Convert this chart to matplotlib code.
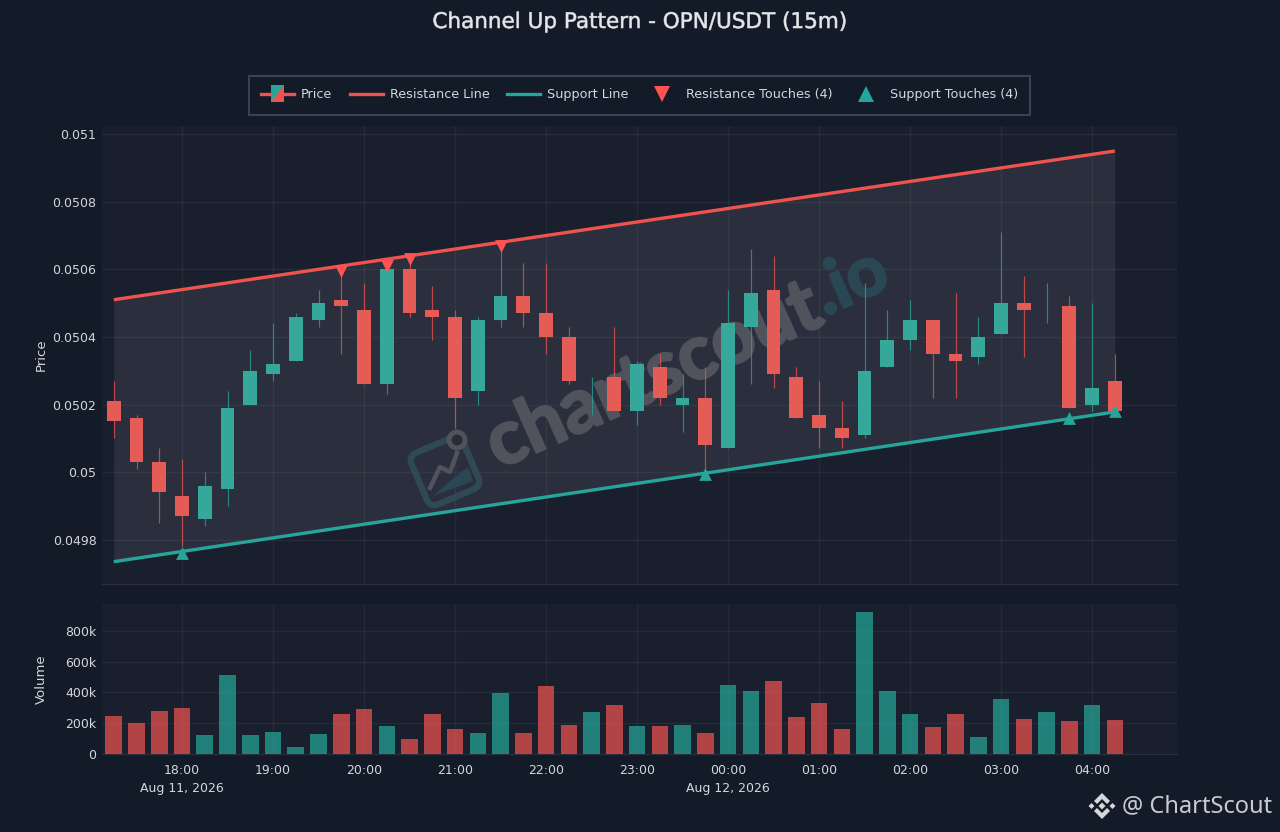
import matplotlib
matplotlib.use('Agg')
import matplotlib.pyplot as plt
import matplotlib.patheffects as pe
import pandas as pd
from matplotlib.lines import Line2D
from matplotlib.legend_handler import HandlerBase
from matplotlib.patches import FancyBboxPatch, Rectangle, Polygon, Circle
from matplotlib.transforms import Affine2D

# Candles, 15 minutes apart
times = pd.date_range('2026-08-11 17:15', '2026-08-12 04:15', freq='15min')
opens = [.05021, .05016, .05003, .04993, .04986, .04995, .05020, .05029, .05033, .05045,
         .05051, .05048, .05026, .05060, .05048, .05046, .05024, .05045, .05052, .05047,
         .05040, .05023, .05028, .05018, .05031, .05020, .05022, .05007, .05043, .05054,
         .05028, .05017, .05013, .05011, .05031, .05039, .05045, .05035, .05034, .05041,
         .05050, .05050, .05049, .05020, .05027]
closes = [.05015, .05003, .04994, .04987, .04996, .05019, .05030, .05032, .05046, .05050,
          .05049, .05026, .05060, .05047, .05046, .05022, .05045, .05052, .05047, .05040,
          .05027, .05023, .05018, .05032, .05022, .05022, .05008, .05044, .05053, .05029,
          .05016, .05013, .05010, .05030, .05039, .05045, .05035, .05033, .05040, .05050,
          .05048, .05050, .05019, .05025, .05018]
highs = [.05027, .05017, .05007, .05004, .05000, .05024, .05036, .05044, .05047, .05054,
         .05059, .05056, .05063, .05064, .05055, .05048, .05046, .05068, .05062, .05062,
         .05043, .05028, .05043, .05033, .05035, .05029, .05031, .05054, .05066, .05064,
         .05031, .05027, .05021, .05056, .05048, .05051, .05045, .05053, .05046, .05071,
         .05058, .05056, .05052, .05050, .05035]
lows = [.05010, .05001, .04985, .04978, .04984, .04990, .05020, .05027, .05033, .05043,
        .05035, .05026, .05023, .05046, .05039, .05013, .05020, .05043, .05043, .05035,
        .05026, .05017, .05018, .05014, .05020, .05012, .05000, .05007, .05026, .05025,
        .05016, .05007, .05007, .05010, .05031, .05036, .05022, .05022, .05032, .05041,
        .05034, .05044, .05019, .05018, .05018]
volumes = [247, 200, 280, 300, 123, 515, 123, 145, 48, 130,
           262, 295, 182, 98, 262, 160, 135, 395, 135, 440,
           190, 272, 317, 180, 182, 188, 135, 448, 408, 475,
           240, 332, 160, 925, 408, 258, 178, 258, 108, 355,
           225, 272, 213, 318, 220]
volumes = [v * 1000 for v in volumes]

# Channel lines and touches
line_times = [times[0], times[-1]]
resistance = [.05051, .05095]
support = [.049735, .050178]
res_times = pd.to_datetime(['2026-08-11 19:45', '2026-08-11 20:15', '2026-08-11 20:30', '2026-08-11 21:30'])
res_prices = [.050595, .05061, .05063, .05067]
sup_times = pd.to_datetime(['2026-08-11 18:00', '2026-08-11 23:45', '2026-08-12 03:45', '2026-08-12 04:15'])
sup_prices = [.04976, .049995, .05016, .05018]

price_ticks = [.0498, .05, .0502, .0504, .0506, .0508, .051]
price_labels = ['0.0498', '0.05', '0.0502', '0.0504', '0.0506', '0.0508', '0.051']
vol_ticks = [0, 200000, 400000, 600000, 800000]
vol_labels = ['0', '200k', '400k', '600k', '800k']
hour_ticks = pd.date_range('2026-08-11 18:00', '2026-08-12 04:00', freq='1h')

BG = '#131a28'
PANEL = '#1a1f2e'
RED = '#ef5350'
TEAL = '#26a69a'
BODY_RED = '#e55b56'
BODY_TEAL = '#35a89b'
TEXT = '#d4d7dc'
GREY_WM = '#50525c'
TEAL_WM = '#2a4854'

W, H = 1280, 832
fig = plt.figure(figsize=(W / 100, H / 100), dpi=100, facecolor=BG)
ax = fig.add_axes([102 / W, 1 - 584 / H, 1075 / W, 458 / H], facecolor=PANEL)
ax2 = fig.add_axes([102 / W, 1 - 754 / H, 1075 / W, 150 / H], facecolor=PANEL)

# pixel coordinates for the watermark and the logo, y pointing down
px = Affine2D().scale(1, -1).translate(0, H)

up = [c >= o for o, c in zip(opens, closes)]
colors = [TEAL if u else RED for u in up]
body_colors = [BODY_TEAL if u else BODY_RED for u in up]
bodies = [abs(c - o) for o, c in zip(opens, closes)]
bottoms = [min(o, c) for o, c in zip(opens, closes)]
candle_w = pd.Timedelta(minutes=9) / pd.Timedelta(days=1)
vol_w = pd.Timedelta(minutes=10.9) / pd.Timedelta(days=1)

ax.fill_between(line_times, support, resistance, color='white', alpha=0.075, lw=0, zorder=1)

# watermark
ax.text(499, 469, 'chartscout', transform=px, rotation=24, rotation_mode='anchor',
        family='Lato', weight='bold', fontsize=54.5, color=GREY_WM, zorder=1.5,
        path_effects=[pe.Stroke(linewidth=2, foreground=GREY_WM)])
ax.text(825, 316, '.io', transform=px, rotation=24, rotation_mode='anchor',
        family='Lato', weight='bold', fontsize=50, color=TEAL_WM, zorder=1.5,
        path_effects=[pe.Stroke(linewidth=2, foreground=TEAL_WM)])
rot = Affine2D().rotate_deg_around(445, 471, -23) + px
ax.add_patch(FancyBboxPatch((417, 443), 56, 56, boxstyle='round,pad=0,rounding_size=9', fc='none',
                            ec='#2f4a54', lw=4.6, transform=rot, zorder=1.5))
ax.add_patch(Polygon([(433, 496), (450, 481), (468, 467), (473, 481)], closed=True, fc=TEAL_WM,
                     ec='none', transform=px, zorder=1.5))
ax.add_line(Line2D([430, 440, 450, 457], [488, 467, 472, 453], color=GREY_WM, lw=3.2, transform=px, zorder=1.6))
ax.add_patch(Circle((457, 440), 8, fc='#2a2d38', ec=GREY_WM, lw=3.5, transform=px, zorder=1.6))

ax.vlines(times, lows, highs, colors=colors, lw=0.85, alpha=0.75, zorder=3)
ax.bar(times, bodies, bottom=bottoms, width=candle_w, color=body_colors, lw=0, zorder=4)

ax.plot(line_times, resistance, color=RED, lw=2.4, zorder=5, solid_capstyle='butt')
ax.plot(line_times, support, color=TEAL, lw=2.4, zorder=5, solid_capstyle='butt')
ax.scatter(res_times, res_prices, marker='v', s=85, color='#ff5252', lw=0, zorder=6)
ax.scatter(sup_times, sup_prices, marker='^', s=85, color=TEAL, lw=0, zorder=6)

ax2.bar(times, volumes, width=vol_w, color=colors, alpha=0.72, lw=0, zorder=3)

x0 = pd.Timestamp('2026-08-11 17:07:15')
x1 = pd.Timestamp('2026-08-12 04:56:00')
for a in (ax, ax2):
    a.set_xlim(x0, x1)
    a.set_xticks(hour_ticks)
    a.grid(True, color='white', alpha=0.05, lw=1, zorder=0)
    a.set_axisbelow(True)
    for s in a.spines.values():
        s.set_visible(False)
    a.spines['bottom'].set_visible(True)
    a.spines['bottom'].set_color('#2b2f3d')
    a.tick_params(length=0, colors=TEXT, labelsize=9)

ax.set_ylim(.049669, .051024)
ax.set_yticks(price_ticks, price_labels)
ax.tick_params(axis='x', labelbottom=False)
ax.tick_params(axis='y', pad=4)
ax.set_ylabel('Price', color=TEXT, fontsize=9.5)
ax.yaxis.set_label_coords(-0.05, 0.5)

ax2.set_ylim(0, 975000)
ax2.set_yticks(vol_ticks, vol_labels)
ax2.tick_params(axis='y', pad=4)
ax2.set_ylabel('Volume', color=TEXT, fontsize=9.5)
ax2.yaxis.set_label_coords(-0.05, 0.5)

hour_labels = [t.strftime('%H:%M') for t in hour_ticks]
hour_labels[0] += '\nAug 11, 2026'
hour_labels[6] += '\nAug 12, 2026'
ax2.set_xticks(hour_ticks, hour_labels, linespacing=1.55)
ax2.tick_params(axis='x', pad=7)

fig.text(640 / W, 1 - 22 / H, 'Channel Up Pattern - OPN/USDT (15m)', ha='center', va='center',
         color='#e4e6ea', fontsize=15.5,
         path_effects=[pe.Stroke(linewidth=0.4, foreground='#e4e6ea')])


class PriceHandler(HandlerBase):
    def create_artists(self, legend, orig_handle, xd, yd, width, height, fontsize, trans):
        mid = height / 2 - yd
        line = Line2D([-xd, width - xd], [mid, mid], color=RED, lw=2.4, transform=trans)
        cx = width / 2 - xd
        box1 = Rectangle((cx - 4.6, mid - 6.2), 9.2, 12.4, fc=TEAL, ec='none', transform=trans)
        box2 = Polygon([(cx - 4.6, mid - 6.2), (cx + 4.6, mid - 6.2), (cx + 4.6, mid + 6.2)], closed=True, fc=RED, ec='none', transform=trans)
        return [line, box1, box2]


handles = [Line2D([], [], color=RED),
           Line2D([], [], color=RED, lw=2.4),
           Line2D([], [], color=TEAL, lw=2.4),
           Line2D([], [], color='#ff5252', marker='v', ms=11, ls='none', mew=0),
           Line2D([], [], color=TEAL, marker='^', ms=11, ls='none', mew=0)]
labels = ['Price', 'Resistance Line', 'Support Line', 'Resistance Touches (4)', 'Support Touches (4)']
leg = fig.legend(handles, labels, handler_map={handles[0]: PriceHandler()}, ncol=5, loc='center',
                 bbox_to_anchor=(639.5 / W, 1 - 94.5 / H), frameon=False,
                 fontsize=9.2, labelcolor=TEXT, handlelength=2.6, handletextpad=0.55,
                 columnspacing=1.35)

# legend frame and ChartScout brand, in pixel coordinates
over = fig.add_axes([0, 0, 1, 1], facecolor='none')
over.set_xlim(0, W)
over.set_ylim(H, 0)
over.axis('off')
over.add_patch(Rectangle((249, 76), 781, 39, fc='none', ec='#3d424f', lw=1.5))
logo = '#d5d7db'
over.add_patch(Polygon([(1102, 793), (1110, 801), (1107, 804), (1102, 799), (1097, 804), (1094, 801)], closed=True, fc=logo, ec='none'))
over.add_patch(Polygon([(1102, 819), (1110, 811), (1107, 808), (1102, 813), (1097, 808), (1094, 811)], closed=True, fc=logo, ec='none'))
for cx, cy, r in [(1091.5, 806, 3), (1112.5, 806, 3), (1102, 806, 3.5)]:
    over.add_patch(Polygon([(cx - r, cy), (cx, cy - r), (cx + r, cy), (cx, cy + r)], closed=True, fc=logo, ec='none'))
over.text(1122, 806, '@ ChartScout', color='#c8cbd0', fontsize=17, family='Noto Sans', va='center', ha='left')

fig.savefig('out.png', dpi=100, facecolor=BG)
